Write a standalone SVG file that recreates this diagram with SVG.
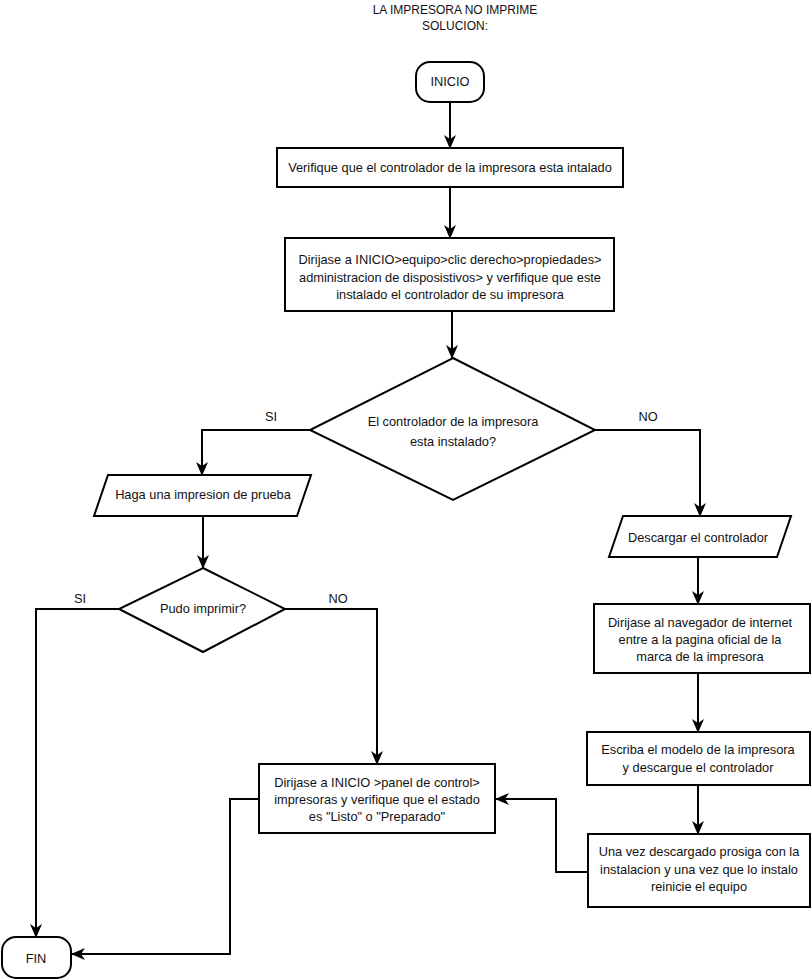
<svg xmlns="http://www.w3.org/2000/svg" width="812" height="980" viewBox="0 0 812 980">
<style>
  .shape { fill: #ffffff; stroke: #000000; stroke-width: 2; }
  .conn { fill: none; stroke: #000000; stroke-width: 2; }
  text { font-family: "Liberation Sans", Arial, sans-serif; font-size: 12.8px; fill: #111111; text-anchor: middle; }
  .title { font-size: 12px; }
</style>
<defs>
  <marker id="arrow" markerUnits="userSpaceOnUse" markerWidth="14" markerHeight="14" viewBox="0 0 14 14" refX="13" refY="7" orient="auto">
    <path d="M0,1 L14,7 L0,13 L4,7 z" fill="#000000"/>
  </marker>
</defs>
<rect width="812" height="980" fill="#ffffff"/>

<g id="title">
  <text class="title" x="455" y="14">LA IMPRESORA NO IMPRIME</text>
  <text class="title" x="455" y="30">SOLUCION:</text>
</g>

<g id="connectors">
  <path class="conn" d="M450,102 L450,148" marker-end="url(#arrow)"/>
  <path class="conn" d="M450,187 L450,238" marker-end="url(#arrow)"/>
  <path class="conn" d="M452,311 L452,358" marker-end="url(#arrow)"/>
  <path class="conn" d="M310,430 L202,430 L202,475" marker-end="url(#arrow)"/>
  <path class="conn" d="M595,430 L700,430 L700,516" marker-end="url(#arrow)"/>
  <path class="conn" d="M203,516 L203,568" marker-end="url(#arrow)"/>
  <path class="conn" d="M119,609 L36,609 L36,937" marker-end="url(#arrow)"/>
  <path class="conn" d="M285,609 L377,609 L377,764" marker-end="url(#arrow)"/>
  <path class="conn" d="M698,557 L698,604" marker-end="url(#arrow)"/>
  <path class="conn" d="M698,673 L698,732" marker-end="url(#arrow)"/>
  <path class="conn" d="M698,785 L698,834" marker-end="url(#arrow)"/>
  <path class="conn" d="M588,872 L556,872 L556,799 L496,799" marker-end="url(#arrow)"/>
  <path class="conn" d="M259,799 L230,799 L230,954 L72,954" marker-end="url(#arrow)"/>
  <text x="271" y="421">SI</text>
  <text x="648" y="421">NO</text>
  <text x="80" y="603">SI</text>
  <text x="338" y="603">NO</text>
</g>

<g id="inicio">
  <rect class="shape" x="416" y="62" width="68" height="40" rx="14" ry="14"/>
  <text x="450" y="86">INICIO</text>
</g>

<g id="verifique">
  <rect class="shape" x="277" y="148" width="346" height="39"/>
  <text x="450" y="172">Verifique que el controlador de la impresora esta intalado</text>
</g>

<g id="dirijase1">
  <rect class="shape" x="285" y="238" width="329" height="73"/>
  <text x="450" y="264">Dirijase a INICIO&gt;equipo&gt;clic derecho&gt;propiedades&gt;</text>
  <text x="450" y="282">administracion de disposistivos&gt; y verfifique que este</text>
  <text x="450" y="299">instalado el controlador de su impresora</text>
</g>

<g id="decision1">
  <polygon class="shape" points="453,358 595,430 453,500 310,430"/>
  <text x="453" y="426">El controlador de la impresora</text>
  <text x="453" y="446">esta instalado?</text>
</g>

<g id="prueba">
  <polygon class="shape" points="108,475 311,475 297,516 94,516"/>
  <text x="203" y="499">Haga una impresion de prueba</text>
</g>

<g id="decision2">
  <polygon class="shape" points="203,568 285,609 203,652 119,609"/>
  <text x="203" y="613">Pudo imprimir?</text>
</g>

<g id="descargar">
  <polygon class="shape" points="623,516 791,516 777,557 609,557"/>
  <text x="698" y="542">Descargar el controlador</text>
</g>

<g id="navegador">
  <rect class="shape" x="594" y="604" width="216" height="69"/>
  <text x="700" y="627">Dirijase al navegador de internet</text>
  <text x="700" y="644">entre a la pagina oficial de la</text>
  <text x="700" y="661">marca de la impresora</text>
</g>

<g id="escriba">
  <rect class="shape" x="587" y="732" width="223" height="53"/>
  <text x="698" y="754">Escriba el modelo de la impresora</text>
  <text x="698" y="772">y descargue el controlador</text>
</g>

<g id="instalacion">
  <rect class="shape" x="588" y="834" width="222" height="73"/>
  <text x="699" y="856">Una vez descargado prosiga con la</text>
  <text x="699" y="874">instalacion y una vez que lo instalo</text>
  <text x="699" y="891">reinicie el equipo</text>
</g>

<g id="panel">
  <rect class="shape" x="259" y="764" width="236" height="69"/>
  <text x="377" y="787">Dirijase a INICIO &gt;panel de control&gt;</text>
  <text x="377" y="804">impresoras y verifique que el estado</text>
  <text x="377" y="821">es "Listo" o "Preparado"</text>
</g>

<g id="fin">
  <rect class="shape" x="2" y="937" width="69" height="41" rx="14" ry="14"/>
  <text x="36" y="963">FIN</text>
</g>
</svg>
